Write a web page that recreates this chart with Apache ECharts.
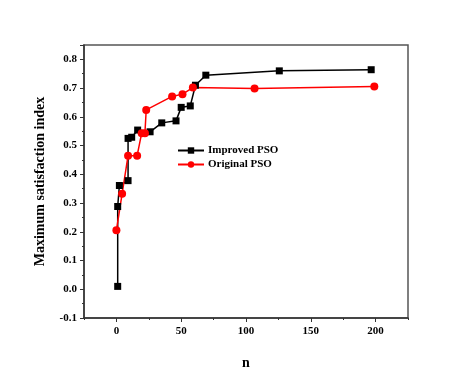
<!DOCTYPE html>
<html><head><meta charset="utf-8">
<script src="https://cdn.jsdelivr.net/npm/echarts@6/dist/echarts.min.js"></script>
<style>html,body{margin:0;padding:0;background:#fff}#c{width:474px;height:380px}</style>
</head><body><div id="c"></div>
<script>
var improvedN = [1, 1, 2.3, 9, 9, 11.8, 16.4, 26, 35, 46, 50, 57, 61, 69, 125.7, 196.6];
var improvedV = [0.01, 0.288, 0.361, 0.378, 0.525, 0.529, 0.554, 0.548, 0.579, 0.586, 0.633, 0.638, 0.71, 0.745, 0.76, 0.764];
var originalN = [0, 4.4, 9, 16, 19.5, 22, 23, 43, 51, 59, 106.6, 199];
var originalV = [0.205, 0.332, 0.465, 0.465, 0.543, 0.543, 0.624, 0.671, 0.679, 0.702, 0.699, 0.706];
var xTicks = [0, 50, 100, 150, 200];
var seriesNames = ['Improved PSO', 'Original PSO'];
var xName = 'n';
var yName = 'Maximum satisfaction index';

function zip(a, b) { return a.map(function (v, i) { return [v, b[i]]; }); }
var font = 'Liberation Serif';
var chart = echarts.init(document.getElementById('c'));
chart.setOption({
  animation: false,
  backgroundColor: '#fff',
  grid: { left: 84, right: 66, top: 45, bottom: 62, show: true, borderColor: '#555', borderWidth: 1.5, containLabel: false },
  legend: {
    orient: 'vertical', left: 172, top: 140, itemGap: 3, itemWidth: 26, itemHeight: 8,
    textStyle: { fontFamily: font, fontWeight: 'bold', fontSize: 11, color: '#000', padding: [0, 0, 0, -1] },
    data: seriesNames
  },
  xAxis: [{
    type: 'value', min: -25, max: 225,
    name: xName, nameLocation: 'middle', nameGap: 38,
    nameTextStyle: { fontFamily: font, fontWeight: 'bold', fontSize: 14, color: '#000' },
    axisLine: { show: true, onZero: false, lineStyle: { color: '#333', width: 1.5 } },
    axisTick: { show: true, length: 4, customValues: xTicks, lineStyle: { color: '#333' } },
    axisLabel: { customValues: xTicks, fontFamily: font, fontWeight: 'bold', fontSize: 11, color: '#000', margin: 8 },
    splitLine: { show: false }
  }, {
    type: 'value', min: -25, max: 225, interval: 25, position: 'bottom',
    axisLine: { show: false, onZero: false }, axisLabel: { show: false },
    axisTick: { show: true, length: 2, lineStyle: { color: '#333' } },
    splitLine: { show: false }
  }],
  yAxis: {
    type: 'value', min: -0.1, max: 0.85, interval: 0.1,
    name: yName, nameLocation: 'middle', nameGap: 37,
    nameTextStyle: { fontFamily: font, fontWeight: 'bold', fontSize: 14, color: '#000' },
    axisLine: { show: true, onZero: false, lineStyle: { color: '#333', width: 1.5 } },
    axisTick: { show: true, length: 4, lineStyle: { color: '#333' } },
    minorTick: { show: true, splitNumber: 2, length: 2, lineStyle: { color: '#333' } },
    axisLabel: { showMaxLabel: false, fontFamily: font, fontWeight: 'bold', fontSize: 11, color: '#000', margin: 7,
      formatter: function (v) { return v.toFixed(1); } },
    splitLine: { show: false }
  },
  series: [{
    name: seriesNames[0], type: 'line', data: zip(improvedN, improvedV),
    symbol: 'rect', symbolSize: 7, color: '#000',
    lineStyle: { color: '#000', width: 1.5 }, itemStyle: { color: '#000' }
  }, {
    name: seriesNames[1], type: 'line', data: zip(originalN, originalV),
    symbol: 'circle', symbolSize: 8, color: '#f00',
    lineStyle: { color: '#f00', width: 1.5 }, itemStyle: { color: '#f00' }
  }]
});
</script></body></html>
